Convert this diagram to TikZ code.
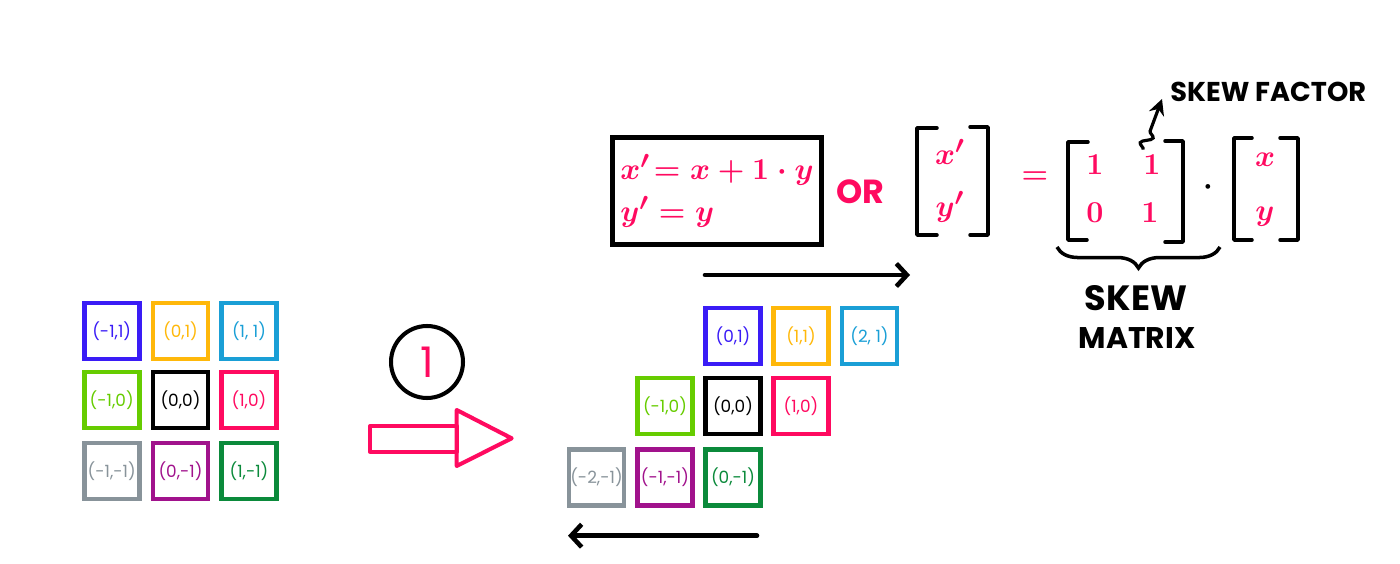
\documentclass[tikz,border=0pt]{standalone}
\usepackage{fontspec}
\setmainfont{Poppins}
\usetikzlibrary{arrows.meta,decorations.pathmorphing,decorations.pathreplacing}
\definecolor{cblue}{HTML}{3A1CF6}
\definecolor{cyel}{HTML}{FFB80A}
\definecolor{ccyan}{HTML}{1A9FD6}
\definecolor{clime}{HTML}{66CC00}
\definecolor{cpink}{HTML}{FF0A60}
\definecolor{cgray}{HTML}{88939A}
\definecolor{cpurp}{HTML}{A1128C}
\definecolor{cdgreen}{HTML}{0B8A3B}
\begin{document}
\begin{tikzpicture}[x=0.02cm,y=-0.02cm,
  cell/.style={draw=#1,text=#1,line width=2.8pt,minimum width=1.1cm,minimum height=1.12cm,inner sep=0pt,font=\fontsize{9.6}{11}\selectfont},
  pkm/.style={text=cpink,inner sep=0pt,font=\fontsize{19}{24}\selectfont\boldmath},
  arr/.style={line width=2.6pt,line cap=round,-{Straight Barb[length=6pt,width=13pt]}},
  brk/.style={line width=2pt,line cap=round,line join=round},
  lbl/.style={inner sep=0pt,font=\bfseries}
]
\useasboundingbox (0,0) rectangle (1400,564);

% left grid
\node[cell=cblue]   (l11) at (111.7,331) {(-1,1)};
\node[cell=cyel]    (l12) at (180.5,331) {(0,1)};
\node[cell=ccyan]   (l13) at (249,331)   {(1, 1)};
\node[cell=clime]   (l21) at (111.7,400) {(-1,0)};
\node[cell=black]   (l22) at (180.5,400) {(0,0)};
\node[cell=cpink]   (l23) at (249,400)   {(1,0)};
\node[cell=cgray]   (l31) at (111.7,471) {(-1,-1)};
\node[cell=cpurp]   (l32) at (180.5,471) {(0,-1)};
\node[cell=cdgreen] (l33) at (249,471)   {(1,-1)};

% step marker and big arrow
\node[circle,draw,line width=2.3pt,minimum size=1.44cm,text=cpink,font=\fontsize{24}{26}\selectfont] (step) at (427,362) {1};
\draw[cpink,line width=2.3pt,line join=round] (370,426) rectangle (456.7,451.7);
\draw[cpink,line width=2.3pt,line join=round] (456.7,410) -- (511.7,438.3) -- (456.7,466) -- cycle;

% right (skewed) grid
\node[cell=cblue]   (r11) at (733,336)   {(0,1)};
\node[cell=cyel]    (r12) at (801,336)   {(1,1)};
\node[cell=ccyan]   (r13) at (869.5,336) {(2, 1)};
\node[cell=clime]   (r21) at (665,406)   {(-1,0)};
\node[cell=black]   (r22) at (733,406)   {(0,0)};
\node[cell=cpink]   (r23) at (801,406)   {(1,0)};
\node[cell=cgray]   (r31) at (596.5,477.5) {(-2,-1)};
\node[cell=cpurp]   (r32) at (665,477.5) {(-1,-1)};
\node[cell=cdgreen] (r33) at (733,477.5) {(0,-1)};

% shear arrows
\coordinate (ta1) at (705,275);
\coordinate (ta2) at (910,275);
\draw[arr] (ta1) -- (ta2);
\coordinate (ba1) at (757,535.7);
\coordinate (ba2) at (568,535.7);
\draw[arr] (ba1) -- (ba2);

% equation box
\node[draw,line width=2.8pt,minimum width=4.18cm,minimum height=2.14cm,align=left,pkm] (eq) at (717,191)
  {$x'\!= x + 1\cdot y$\\ $y' = y$};

\node[lbl,text=cpink,font=\fontsize{19}{20}\selectfont\bfseries] (or) at (860,192) {OR};

% vector x', y'
\draw[brk] (937,128) -- (917,128) -- (917,235) -- (937,235);
\draw[brk] (970,127) -- (988,127) -- (988,235) -- (970,235);
\node[pkm] (xp) at (950,152) {$x'$};
\node[pkm] (yp) at (950,207) {$y'$};

\node[pkm] (eqs) at (1035,178) {$=$};

% matrix
\draw[brk] (1088,142) -- (1068,142) -- (1068,240) -- (1087,240);
\draw[brk] (1165,141) -- (1183,141) -- (1183,242) -- (1165,242);
\node[pkm] (m11) at (1095,165) {$1$};
\node[pkm] (m12) at (1152,165) {$1$};
\node[pkm] (m21) at (1095,213) {$0$};
\node[pkm] (m22) at (1150,213) {$1$};

\node[inner sep=0pt,font=\fontsize{19}{20}\selectfont\boldmath] (dot) at (1208,187) {$\cdot$};

% vector x, y
\draw[brk] (1252,138) -- (1234,138) -- (1234,240) -- (1252,240);
\draw[brk] (1280,138) -- (1298,138) -- (1298,240) -- (1280,240);
\node[pkm] (vx) at (1265,160) {$x$};
\node[pkm] (vy) at (1265,217) {$y$};

% skew factor
\node[lbl,anchor=west,font=\fontsize{15.5}{16}\selectfont\bfseries] (sf) at (1170,92) {SKEW FACTOR};
\coordinate (sfend) at (1162,99);
\draw[line width=1.8pt,decorate,decoration={snake,amplitude=3pt,segment length=10pt,post length=16pt},-{Stealth[length=9pt,width=9pt]}] ([xshift=-5pt,yshift=3pt]m12.north) -- (sfend);

% brace
\coordinate (br1) at (1057,247);
\coordinate (br2) at (1220,247);
\draw[line width=2pt,decorate,decoration={brace,mirror,amplitude=12pt}] (br1) -- (br2);
\node[lbl,font=\fontsize{20}{22}\selectfont\bfseries] (skew) at (1136,298) {SKEW};
\node[lbl,font=\fontsize{17}{18}\selectfont\bfseries] (matrix) at (1137,338) {MATRIX};
\end{tikzpicture}
\end{document}
